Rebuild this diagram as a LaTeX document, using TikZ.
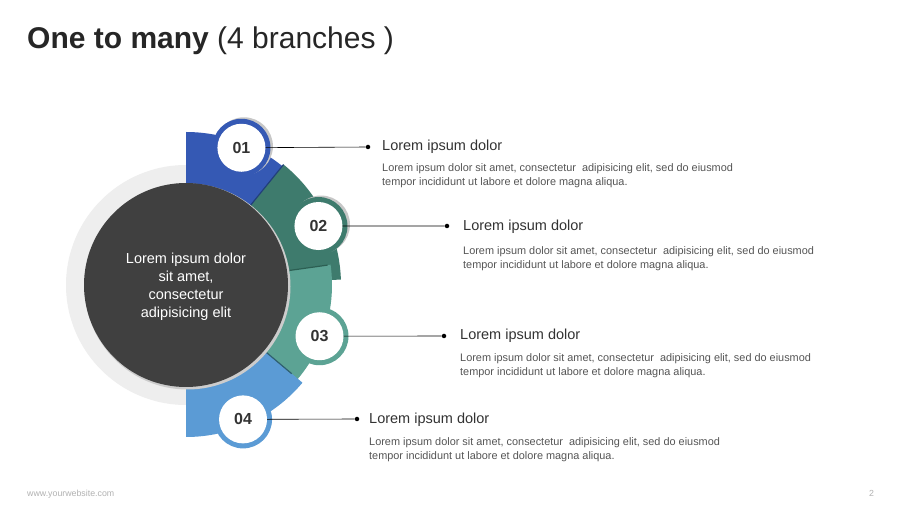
\documentclass[tikz,border=0pt]{standalone}
\usepackage{fontspec}
\setmainfont{Liberation Sans}
\usetikzlibrary{calc}
\definecolor{segA}{HTML}{3559B4}
\definecolor{segB}{HTML}{3E7B6D}
\definecolor{segC}{HTML}{5CA394}
\definecolor{segD}{HTML}{5B9BD5}
\definecolor{edgeB}{HTML}{22407A}
\definecolor{edgeC}{HTML}{2C5F53}
\definecolor{edgeD}{HTML}{2F5F70}
\definecolor{hubcol}{HTML}{404040}
\definecolor{ringgray}{HTML}{EEEEEE}
\definecolor{headcol}{HTML}{333333}
\definecolor{bodycol}{HTML}{555555}
\tikzset{
  numbox/.style={circle, fill=white, minimum size=48pt, inner sep=0pt,
    font=\bfseries\fontsize{16}{16}\selectfont, text=headcol},
  headtext/.style={anchor=base west, inner sep=0pt, font=\fontsize{14.5}{17}\selectfont, text=headcol},
  bodytext/.style={anchor=base west, inner sep=0pt, align=left, font=\fontsize{10.9}{14.5}\selectfont, text=bodycol},
  dotnode/.style={circle, fill=black, minimum size=4.5pt, inner sep=0pt},
  link/.style={draw=black, line width=0.6pt},
}
\begin{document}
\begin{tikzpicture}[x=1pt,y=1pt]
\useasboundingbox (0,0) rectangle (900,506);
\fill[white] (0,0) rectangle (900,506);
% title
\node[anchor=base west, inner sep=0pt, text=black!85] (title) at (27,457)
  {\fontsize{30}{32}\selectfont\textbf{One to many} (4 branches )};
% footer
\node[anchor=base west, inner sep=0pt, text=black!30, font=\fontsize{8.8}{10}\selectfont] (web) at (27,9) {www.yourwebsite.com};
\node[anchor=base west, inner sep=0pt, text=black!30, font=\fontsize{8.8}{10}\selectfont] (page) at (869,9) {2};
% hub geometry
\coordinate (C) at (186,221);
\fill[ringgray] (C) circle[radius=120];
% segments
\fill[segA] (C) -- +(46:153) arc[start angle=46, end angle=90, radius=153] -- cycle;
\coordinate (p1) at ($(C)+(68:148)$);
\fill[black!22] ($(p1)+(2.5,1.5)$) circle[radius=29];
\fill[segA] (p1) circle[radius=29];

\fill[segB] (C) -- +(2:155) arc[start angle=2, end angle=51, radius=155] -- cycle;
\draw[edgeB, line width=1.2pt] ($(C)+(51:100)$) -- ($(C)+(51:155)$);
\coordinate (p2) at ($(C)+(24:145)$);
\fill[black!22] ($(p2)+(2.5,1.5)$) circle[radius=29];
\fill[segB] (p2) circle[radius=29];

\fill[segC] (C) -- +(-47:146) arc[start angle=-47, end angle=8, radius=146] -- cycle;
\draw[edgeC, line width=1.2pt] ($(C)+(8:100)$) -- ($(C)+(8:143)$);
\coordinate (p3) at ($(C)+(-21:143)$);
\fill[segC] (p3) circle[radius=29];

\fill[segD] (C) -- +(-90:152) arc[start angle=-90, end angle=-40, radius=152] -- cycle;
\draw[edgeD, line width=1.2pt] ($(C)+(-40:100)$) -- ($(C)+(-40:138)$);
\coordinate (p4) at ($(C)+(-67:146)$);
\fill[segD] (p4) circle[radius=29];

% hub
\fill[black!20] ($(C)+(1.5,-1.5)$) circle[radius=103];
\node[circle, fill=hubcol, minimum size=204pt, inner sep=0pt] (hub) at (C) {};
\node[align=center, text=white, font=\fontsize{14.5}{18}\selectfont] (hubtext) at ($(C)+(0,-2)$)
  {Lorem ipsum dolor\\sit amet,\\consectetur\\adipisicing elit};

% number circles
\node[numbox] (n1) at (p1) {01};
\node[numbox] (n2) at (p2) {02};
\node[numbox] (n3) at (p3) {03};
\node[numbox] (n4) at (p4) {04};

% dots and connectors
\node[dotnode] (d1) at (368,359) {};
\node[dotnode] (d2) at (447,280) {};
\node[dotnode] (d3) at (444,170) {};
\node[dotnode] (d4) at (357,87) {};
\draw[link] (n1) -- (d1);
\draw[link] (n2) -- (d2);
\draw[link] (n3) -- (d3);
\draw[link] (n4) -- (d4);

% texts
\node[headtext] (h1) at (382,355) {Lorem ipsum dolor};
\node[bodytext] (b1) at (382,320) {Lorem ipsum dolor sit amet, consectetur\ \ adipisicing elit, sed do eiusmod\\tempor incididunt ut labore et dolore magna aliqua.};
\node[headtext] (h2) at (463,275) {Lorem ipsum dolor};
\node[bodytext] (b2) at (463,237) {Lorem ipsum dolor sit amet, consectetur\ \ adipisicing elit, sed do eiusmod\\tempor incididunt ut labore et dolore magna aliqua.};
\node[headtext] (h3) at (460,166) {Lorem ipsum dolor};
\node[bodytext] (b3) at (460,130) {Lorem ipsum dolor sit amet, consectetur\ \ adipisicing elit, sed do eiusmod\\tempor incididunt ut labore et dolore magna aliqua.};
\node[headtext] (h4) at (369,82) {Lorem ipsum dolor};
\node[bodytext] (b4) at (369,46) {Lorem ipsum dolor sit amet, consectetur\ \ adipisicing elit, sed do eiusmod\\tempor incididunt ut labore et dolore magna aliqua.};
\end{tikzpicture}
\end{document}
